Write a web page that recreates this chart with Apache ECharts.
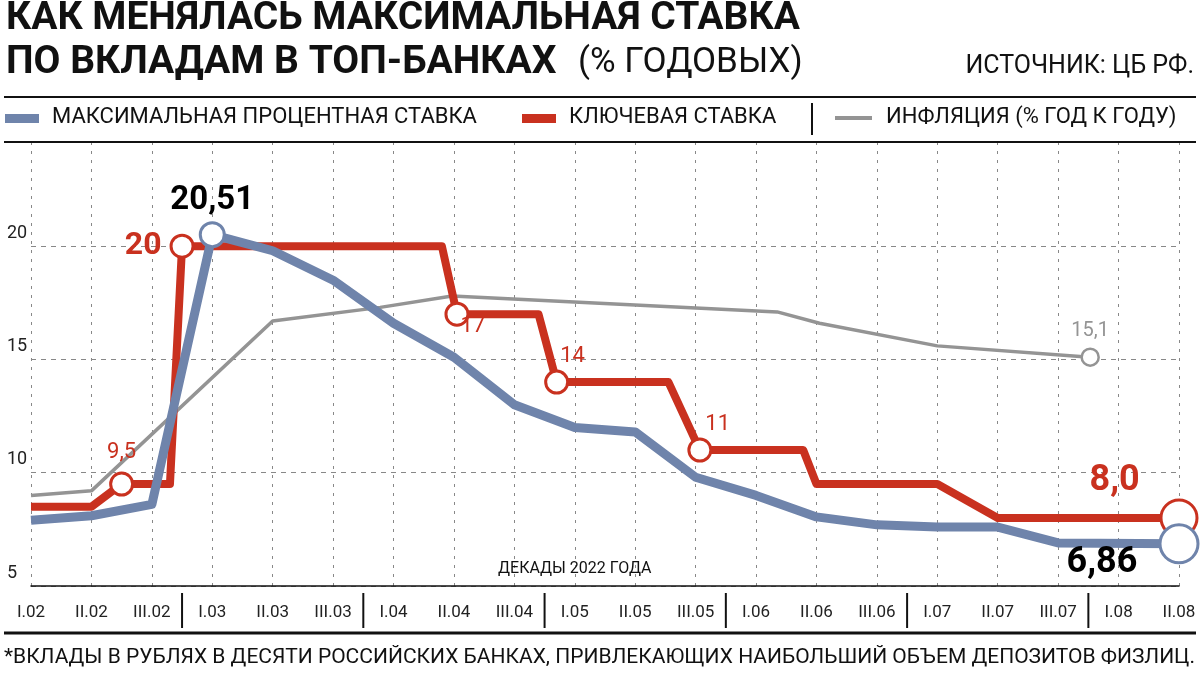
<!DOCTYPE html>
<html><head><meta charset="utf-8">
<script src="https://cdn.jsdelivr.net/npm/echarts@6/dist/echarts.min.js"></script>
<style>html,body{margin:0;padding:0;background:#fff}#c{width:1200px;height:676px}</style>
</head><body><div id="c"></div>
<script>
const tickLabels = ['I.02','II.02','III.02','I.03','II.03','III.03','I.04','II.04','III.04','I.05','II.05','III.05','I.06','II.06','III.06','I.07','II.07','III.07','I.08','II.08'];
const monthBreaks = [2.5, 5.5, 8.5, 11.5, 14.5, 17.5];
// max deposit rate (blue)
const depX = [0,1,2,3,4,5,6,7,8,9,10,11,12,13,14,15,16,17,19];
const depY = [7.9,8.1,8.6,20.51,19.8,18.5,16.6,15.1,13.0,12.0,11.8,9.8,9.0,8.05,7.7,7.6,7.6,6.9,6.86];
// key rate (red)
const keyX = [0,1,1.5,2.3,2.5,6.8,7.05,8.4,8.7,10.55,11.07,12.78,13.0,15.0,16.0,19];
const keyY = [8.5,8.5,9.5,9.5,20,20,17,17,14,14,11,11,9.5,9.5,8.0,8.0];
// inflation (grey)
const infX = [0,1,4,5.78,6.97,12.35,13.05,15,17.53];
const infY = [9.0,9.2,16.7,17.3,17.8,17.1,16.6,15.6,15.1];
// highlighted points
const keyMarkX = [1.5,2.5,7.05,8.7,11.07];
const keyMarkY = [9.5,20,17,14,11];
const keyMarkLabels = ['9,5','20','17','14','11'];

const BLUE='#6f84ab', RED='#c9311f', GREY='#949494';
const pairs=(xs,ys)=>xs.map((x,i)=>[x,ys[i]]);
const chart = echarts.init(document.getElementById('c'));
const condensed = "'Liberation Sans Narrow','Roboto','Liberation Sans',sans-serif";

const keyLabelPos = [
  {position:'top', distance:8, fontSize:22, fontWeight:'normal'},
  {position:'left', distance:8, fontSize:32, fontWeight:'bold'},
  {position:[16,14], fontSize:22, fontWeight:'normal'},
  {position:[16,-24], fontSize:22, fontWeight:'normal'},
  {position:[18,-24], fontSize:22, fontWeight:'normal'}
];
const mk=(c,w)=>({color:'#fff',borderColor:c,borderWidth:w,opacity:1});

chart.setOption({
  animation:false,
  grid:{left:31,right:21,top:142,bottom:90},
  xAxis:{type:'value',min:0,max:19,interval:1,
    axisLine:{show:true,lineStyle:{color:'#111',width:1.5}},axisTick:{show:false},
    axisLabel:{formatter:v=>tickLabels[v]||'',margin:18,fontSize:17,color:'#222',fontFamily:condensed},
    splitLine:{show:true,lineStyle:{type:[3,6],color:'#888',width:1}}},
  yAxis:{type:'value',min:5,max:24.6,interval:5,
    axisLine:{show:false},axisTick:{show:false},
    axisLabel:{formatter:v=>(v%5===0&&v<=20)?String(v):'',align:'left',margin:24,verticalAlign:'bottom',padding:[0,0,4,0],fontSize:18,color:'#222',fontFamily:condensed},
    splitLine:{show:true,lineStyle:{type:[5,5],color:'#888',width:1}}},
  series:[
    {type:'line',data:pairs(infX,infY),symbol:'none',lineStyle:{color:GREY,width:3.5},z:2},
    {type:'line',data:pairs(keyX,keyY),symbol:'none',lineStyle:{color:RED,width:8,join:'round'},z:3},
    {type:'line',data:pairs(depX,depY),symbol:'none',lineStyle:{color:BLUE,width:9,join:'round'},z:4},
    {type:'scatter',z:5,symbol:'circle',symbolSize:22,itemStyle:mk(RED,3),
      data:keyMarkX.map((x,i)=>({value:[x,keyMarkY[i]],label:Object.assign({show:true,formatter:keyMarkLabels[i],color:RED,fontFamily:'Roboto, sans-serif'},keyLabelPos[i])}))},
    {type:'scatter',z:6,symbol:'circle',symbolSize:36,itemStyle:mk(RED,3),
      data:[{value:[keyX[keyX.length-1],keyY[keyY.length-1]],label:{show:true,formatter:'8,0',position:[-70,-36],fontSize:36,fontWeight:'bold',color:RED,fontFamily:'Roboto, sans-serif'}}]},
    {type:'scatter',z:7,symbol:'circle',symbolSize:38,itemStyle:mk(BLUE,3),
      data:[{value:[depX[depX.length-1],depY[depY.length-1]],label:{show:true,formatter:'6,86',position:[-92,22],fontSize:36,fontWeight:'bold',color:'#000',fontFamily:'Roboto, sans-serif'}}]},
    {type:'scatter',z:7,symbol:'circle',symbolSize:24,itemStyle:mk(BLUE,3),
      data:[{value:[depX[3],depY[3]],label:{show:true,formatter:'20,51',position:'top',distance:4,fontSize:33,fontWeight:'bold',color:'#000',fontFamily:'Roboto, sans-serif'}}]},
    {type:'scatter',z:5,symbol:'circle',symbolSize:17,itemStyle:mk(GREY,2.5),
      data:[{value:[infX[infX.length-1],infY[infY.length-1]],label:{show:true,formatter:'15,1',position:'top',distance:6,fontSize:20,color:GREY,fontFamily:condensed}}]}
  ]
});

const g=[];
const T=(o)=>g.push(o);
T({type:'text',left:6,top:0,style:{text:'КАК МЕНЯЛАСЬ МАКСИМАЛЬНАЯ СТАВКА',font:"bold 39px Roboto, sans-serif",fill:'#111'}});
T({type:'text',left:6,top:44,style:{text:'ПО ВКЛАДАМ В ТОП-БАНКАХ',font:"bold 39px Roboto, sans-serif",fill:'#111'}});
T({type:'text',left:578,top:46,style:{text:'(% ГОДОВЫХ)',font:"35px Roboto, sans-serif",fill:'#111'}});
T({type:'text',right:6,top:54,style:{text:'ИСТОЧНИК: ЦБ РФ.',font:"25px Roboto, sans-serif",fill:'#111',align:'right'}});
T({type:'line',shape:{x1:4,y1:97,x2:1196,y2:97},style:{stroke:'#111',lineWidth:2}});
T({type:'line',shape:{x1:4,y1:142,x2:1196,y2:142},style:{stroke:'#111',lineWidth:2}});
T({type:'rect',shape:{x:5,y:114,width:34,height:9},style:{fill:BLUE}});
T({type:'text',left:52,top:106,style:{text:'МАКСИМАЛЬНАЯ ПРОЦЕНТНАЯ СТАВКА',font:"22px "+condensed,fill:'#111'}});
T({type:'rect',shape:{x:522,y:114,width:34,height:9},style:{fill:RED}});
T({type:'text',left:569,top:106,style:{text:'КЛЮЧЕВАЯ СТАВКА',font:"22px "+condensed,fill:'#111'}});
T({type:'line',shape:{x1:812,y1:103,x2:812,y2:135},style:{stroke:'#111',lineWidth:2}});
T({type:'rect',shape:{x:835,y:116,width:37,height:4},style:{fill:GREY}});
T({type:'text',left:886,top:106,style:{text:'ИНФЛЯЦИЯ (% ГОД К ГОДУ)',font:"22px "+condensed,fill:'#111'}});
T({type:'text',left:498,top:561,style:{text:'ДЕКАДЫ 2022 ГОДА',font:"16px "+condensed,fill:'#111'}});
T({type:'line',shape:{x1:4,y1:633,x2:1196,y2:633},style:{stroke:'#111',lineWidth:3}});
monthBreaks.forEach(b=>{const x=chart.convertToPixel({xAxisIndex:0},b);
  T({type:'line',shape:{x1:x,y1:593,x2:x,y2:628},style:{stroke:'#111',lineWidth:2}});});
T({type:'text',left:4,top:647,style:{text:'*ВКЛАДЫ В РУБЛЯХ В ДЕСЯТИ РОССИЙСКИХ БАНКАХ, ПРИВЛЕКАЮЩИХ НАИБОЛЬШИЙ ОБЪЕМ ДЕПОЗИТОВ ФИЗЛИЦ.',font:"21px "+condensed,fill:'#111'}});
chart.setOption({graphic:g});
</script></body></html>
